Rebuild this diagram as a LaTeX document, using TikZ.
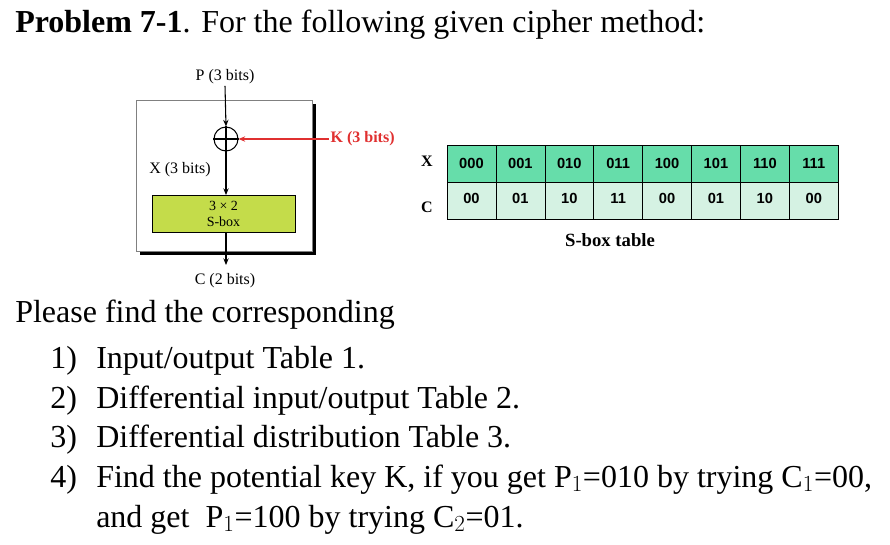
\documentclass[tikz,border=0pt]{standalone}
\usepackage{fontspec}
\setmainfont{Liberation Serif}
\newfontfamily\sans{Liberation Sans}
\usetikzlibrary{arrows.meta}
\definecolor{hdr}{HTML}{66DDAA}
\definecolor{row}{HTML}{D5F2E3}
\definecolor{sbox}{HTML}{C4DC4A}
\definecolor{kred}{HTML}{E03030}
\begin{document}
\begin{tikzpicture}[x=0.75pt,y=-0.75pt,
  big/.style={font=\fontsize{24}{28}\selectfont,anchor=base west,inner sep=0},
  sm/.style={font=\fontsize{12}{14}\selectfont,inner sep=1pt},
  arr/.style={-{Stealth[length=5pt,width=4pt]},thick},
  cellh/.style={draw,fill=hdr,minimum width=48.9*0.75pt,minimum height=37*0.75pt,font=\sans\bfseries\fontsize{11}{13}\selectfont,inner sep=0},
  cellr/.style={cellh,fill=row}]
\useasboundingbox (0,0) rectangle (890,544);
\node[big] (t) at (15,32) {\textbf{Problem 7-1}. For the following given cipher method:};
% box with shadow
\fill[black] (140,104) rectangle (316,255);
\draw[fill=white,draw=gray] (136,100) rectangle (312,251);
\node[sm] (p) at (225,77) {P (3 bits)};
\node[draw,circle,minimum size=24*0.75pt,inner sep=0,thick] (xor) at (226,139) {};
\draw[thick] (xor.north)--(xor.south) (xor.west)--(xor.east);
\draw[arr] (p.south) -- (xor.north);
\node[sm,text=kred,font=\bfseries\fontsize{12}{14}\selectfont,anchor=west] (k) at (329,139) {K (3 bits)};
\draw[arr,kred] (k.west) -- (xor.east);
\node[sm] (x) at (180,170) {X (3 bits)};
\node[draw,fill=sbox,minimum width=143*0.75pt,minimum height=37*0.75pt,align=center,sm,font=\fontsize{10.5}{12}\selectfont] (sb) at (223.5,213.5) {3 × 2\\S-box};
\draw[arr] (xor.south) -- (226,195);
\node[sm] (c) at (225,281) {C (2 bits)};
\draw[arr] (226,232) -- (226,265);
% table
\node[font=\bfseries\fontsize{12}{14}\selectfont] (lx) at (427,161) {X};
\node[font=\bfseries\fontsize{12}{14}\selectfont] (lc) at (427,207) {C};
\foreach \a/\b [count=\i from 0] in {000/00,001/01,010/10,011/11,100/00,101/01,110/10,111/00}{
  \node[cellh] (h\i) at ({447+48.9*\i+24.45},163.5) {\a};
  \node[cellr] (r\i) at ({447+48.9*\i+24.45},200.5) {\raisebox{3pt}{\b}};
}
\node[font=\bfseries\fontsize{14}{16}\selectfont] (cap) at (610,240) {S-box table};
\node[big] (q) at (15,322) {Please find the corresponding};
\node[big] (n1) at (50,368) {1)};
\node[big] (i1) at (96,368) {Input/output Table 1.};
\node[big] (n2) at (50,408) {2)};
\node[big] (i2) at (96,408) {Differential input/output Table 2.};
\node[big] (n3) at (50,447) {3)};
\node[big] (i3) at (96,447) {Differential distribution Table 3.};
\node[big] (n4) at (50,487) {4)};
\node[big] (i4) at (96,487) {Find the potential key K, if you get P$_1$=010 by trying C$_1$=00,};
\node[big] (i5) at (96,527) {and get\ \ P$_1$=100 by trying C$_2$=01.};
\end{tikzpicture}
\end{document}
